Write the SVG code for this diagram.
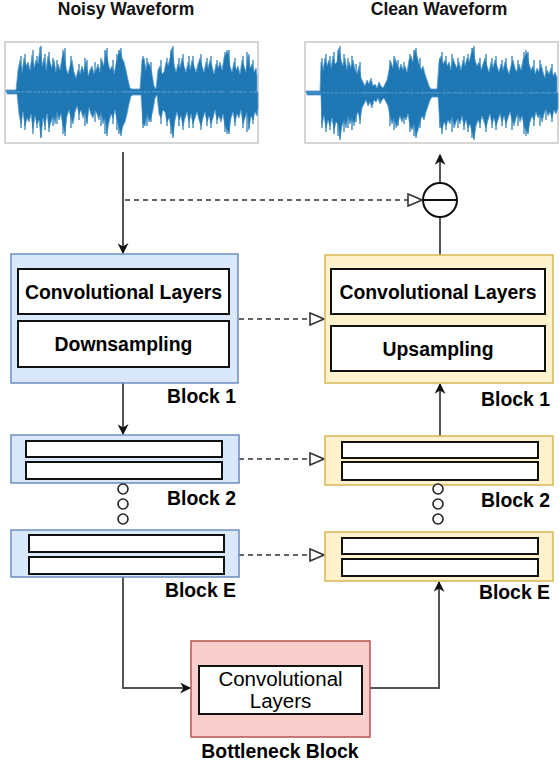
<svg xmlns="http://www.w3.org/2000/svg" width="560" height="763" viewBox="0 0 560 763">
<style>
.t{font-family:"Liberation Sans",Arial,sans-serif;font-weight:bold;font-size:19.4px;fill:#000}
.tn{font-family:"Liberation Sans",Arial,sans-serif;font-size:20.5px;fill:#000}
.ttl{font-family:"Liberation Sans",Arial,sans-serif;font-weight:bold;font-size:17.5px;fill:#111}
.blue{fill:#dae8fc;stroke:#6c8ebf;stroke-width:1.5}
.yel{fill:#fff2cc;stroke:#d6b656;stroke-width:1.5}
.red{fill:#f8cecc;stroke:#b85450;stroke-width:1.5}
.inner{fill:#fff;stroke:#111;stroke-width:2}
.ln{fill:none;stroke:#555;stroke-width:2}
.dash{fill:none;stroke:#333;stroke-width:1.6;stroke-dasharray:5,4}
.wbox{fill:#fff;stroke:#c8c8c8;stroke-width:1.5}
.wave{fill:#1f77b4;stroke:#5a9fd0;stroke-width:0.8;stroke-linejoin:round}
.spk{fill:none;stroke:#1f77b4;stroke-width:1.2}
.dot{fill:#fff;stroke:#222;stroke-width:1.6}
</style>
<defs>
<marker id="ah" viewBox="0 0 10 10" refX="9" refY="5" markerWidth="11" markerHeight="11" markerUnits="userSpaceOnUse" orient="auto">
<path d="M0,0 L10,5 L0,10 L3,5 Z" fill="#111"/>
</marker>
<marker id="oh" viewBox="0 0 16 14" refX="15" refY="7" markerWidth="16" markerHeight="14" markerUnits="userSpaceOnUse" orient="auto">
<path d="M1,1 L15,7 L1,13 Z" fill="#fff" stroke="#333" stroke-width="1.6"/>
</marker>
<polygon id="wn" points="6,90 16,90 18,70 20,60 22,72 24,58 26,66 28,62 30,70 32,55 34,68 36,60 38,64 40,47 42,66 44,58 46,70 48,56 50,62 52,68 54,60 56,72 58,64 60,70 62,58 64,52 66,68 68,74 70,66 72,60 74,72 76,78 78,70 80,74 82,66 84,72 86,62 88,76 90,70 92,66 94,74 96,70 98,64 100,72 102,60 104,66 106,51 108,62 110,70 112,66 114,74 116,64 118,56 120,50 122,58 124,62 126,70 128,80 130,88 132,89 140,89 142,60 144,58 146,70 148,62 150,66 152,74 154,86 156,89 158,70 160,66 162,74 164,72 166,62 168,66 170,58 172,48 174,64 176,72 178,64 180,68 182,58 184,66 186,72 188,62 190,70 192,60 194,66 196,72 198,64 200,58 202,66 204,72 206,62 208,68 210,60 212,66 214,74 216,64 218,68 220,62 222,70 224,58 226,54 228,52 230,66 232,72 234,62 236,70 238,66 240,74 242,60 244,66 246,72 248,56 250,68 252,64 254,72 256,68 257,76 257,92 6,92"/>
<polygon id="wc" points="306,91 320,91 321,62 323,70 325,58 327,66 329,60 331,68 333,56 335,64 337,62 339,48 341,60 343,66 345,58 347,70 349,62 351,68 353,60 355,70 357,74 359,66 361,78 363,82 365,86 367,80 369,84 371,78 373,86 375,84 377,88 379,82 381,86 383,88 385,84 387,80 389,70 391,62 393,68 395,58 397,64 399,70 401,64 403,70 405,66 407,72 409,60 411,56 413,62 415,50 417,56 419,64 421,70 423,66 425,74 427,80 429,86 431,89 437,89 439,62 441,56 443,64 445,60 447,66 449,62 451,70 453,58 455,64 457,68 459,62 461,70 463,60 465,66 467,58 469,62 471,54 473,48 475,60 477,66 479,62 481,70 483,64 485,58 487,66 489,72 491,62 493,68 495,60 497,66 499,72 501,64 503,70 505,62 507,68 509,74 511,66 513,60 515,68 517,72 519,64 521,70 523,60 525,56 527,53 529,64 531,70 533,66 535,74 537,68 539,72 541,64 543,72 545,78 547,70 549,74 551,68 553,76 555,72 557,78 557,93 306,93"/>
</defs>

<g id="titles">
<text class="ttl" x="126" y="15" text-anchor="middle">Noisy Waveform</text>
<text class="ttl" x="439" y="15" text-anchor="middle">Clean Waveform</text>
</g>

<g id="noisy">
<rect class="wbox" x="5" y="42" width="253" height="101"/>
<use href="#wn" class="wave"/>
<use href="#wn" class="wave" transform="translate(1,184) scale(1,-1)"/>
<path class="spk" d="M21,56V128 M25,54V130 M33,50V134 M37,56V128 M41,46V138 M45,54V130 M49,52V132 M53,58V126 M57,60V124 M63,50V134 M65,48V136 M71,56V128 M79,64V120 M85,58V126 M87,60V124 M95,62V122 M101,58V126 M105,50V134 M107,48V136 M113,60V124 M117,54V130 M119,50V134 M121,48V136 M143,56V128 M147,58V126 M151,62V122 M161,60V124 M167,58V126 M171,50V134 M173,46V138 M179,58V126 M183,54V130 M189,56V128 M193,56V128 M201,54V130 M207,58V126 M211,56V128 M217,60V124 M225,52V132 M227,50V134 M229,50V134 M235,58V126 M243,56V128 M247,52V132 M249,54V130 M253,60V124"/>
</g>

<g id="clean">
<rect class="wbox" x="305" y="42" width="253" height="101"/>
<use href="#wc" class="wave"/>
<use href="#wc" class="wave" transform="translate(1,186) scale(1,-1)"/>
<path class="spk" d="M322,58V128 M326,54V132 M330,56V130 M334,52V134 M338,50V136 M340,46V140 M344,54V132 M348,58V128 M352,56V130 M356,64V122 M360,62V124 M390,60V126 M394,56V130 M398,60V126 M404,62V124 M410,54V132 M414,50V136 M416,48V138 M420,58V128 M440,58V128 M442,52V134 M446,56V130 M452,54V132 M458,58V128 M464,56V130 M468,54V132 M472,48V138 M474,46V140 M480,58V128 M486,54V132 M492,58V128 M496,56V130 M502,60V126 M506,58V128 M512,56V130 M518,60V126 M524,52V134 M526,50V136 M528,52V134 M534,60V126 M540,60V126 M546,66V120 M552,64V122"/>
</g>

<g id="connectors">
<line class="ln" x1="123" y1="152" x2="123" y2="253" marker-end="url(#ah)"/>
<line class="dash" x1="125" y1="200" x2="422" y2="200" marker-end="url(#oh)"/>
<line class="ln" x1="440" y1="183" x2="440" y2="155" marker-end="url(#ah)"/>
<line class="ln" x1="440" y1="217" x2="440" y2="255"/>
<line class="dash" x1="239" y1="319" x2="324" y2="319" marker-end="url(#oh)"/>
<line class="ln" x1="123" y1="383" x2="123" y2="434" marker-end="url(#ah)"/>
<line class="ln" x1="440" y1="436" x2="440" y2="384" marker-end="url(#ah)"/>
<line class="dash" x1="239" y1="459" x2="324" y2="459" marker-end="url(#oh)"/>
<line class="dash" x1="239" y1="555" x2="324" y2="555" marker-end="url(#oh)"/>
<polyline class="ln" points="123,577 123,688 190,688" marker-end="url(#ah)"/>
<polyline class="ln" points="370,688 439,688 439,582" marker-end="url(#ah)"/>
</g>

<g id="subtract">
<circle cx="440" cy="200" r="17" fill="#fff" stroke="#111" stroke-width="2"/>
<line x1="423" y1="200" x2="457" y2="200" stroke="#111" stroke-width="2"/>
</g>

<g id="enc-block1">
<rect class="blue" x="11" y="254" width="227" height="129"/>
<rect class="inner" x="18" y="269" width="211" height="45"/>
<rect class="inner" x="18" y="321" width="211" height="46"/>
<text class="t" x="123.5" y="299" text-anchor="middle">Convolutional Layers</text>
<text class="t" x="123.5" y="351" text-anchor="middle">Downsampling</text>
<text class="t" x="236" y="403" text-anchor="end">Block 1</text>
</g>

<g id="dec-block1">
<rect class="yel" x="325" y="255" width="228" height="128"/>
<rect class="inner" x="331" y="269" width="214" height="45"/>
<rect class="inner" x="331" y="326" width="214" height="45"/>
<text class="t" x="438" y="299" text-anchor="middle">Convolutional Layers</text>
<text class="t" x="438" y="356" text-anchor="middle">Upsampling</text>
<text class="t" x="550" y="406" text-anchor="end">Block 1</text>
</g>

<g id="enc-block2">
<rect class="blue" x="11" y="435" width="228" height="48"/>
<rect class="inner" x="26" y="441" width="196" height="16"/>
<rect class="inner" x="26" y="462" width="196" height="17"/>
<text class="t" x="236" y="505" text-anchor="end">Block 2</text>
</g>

<g id="enc-dots">
<circle class="dot" cx="123" cy="489" r="5"/>
<circle class="dot" cx="123" cy="504" r="5"/>
<circle class="dot" cx="123" cy="519" r="5"/>
</g>

<g id="enc-blockE">
<rect class="blue" x="11" y="530" width="228" height="47"/>
<rect class="inner" x="29" y="535" width="195" height="17"/>
<rect class="inner" x="29" y="557" width="195" height="17"/>
<text class="t" x="236" y="597" text-anchor="end">Block E</text>
</g>

<g id="dec-block2">
<rect class="yel" x="325" y="436" width="228" height="49"/>
<rect class="inner" x="342" y="442" width="196" height="16"/>
<rect class="inner" x="342" y="462" width="196" height="18"/>
<text class="t" x="550" y="507" text-anchor="end">Block 2</text>
</g>

<g id="dec-dots">
<circle class="dot" cx="438" cy="489" r="5"/>
<circle class="dot" cx="438" cy="504" r="5"/>
<circle class="dot" cx="438" cy="519" r="5"/>
</g>

<g id="dec-blockE">
<rect class="yel" x="325" y="532" width="228" height="49"/>
<rect class="inner" x="342" y="538" width="196" height="16"/>
<rect class="inner" x="342" y="559" width="196" height="17"/>
<text class="t" x="550" y="599" text-anchor="end">Block E</text>
</g>

<g id="bottleneck">
<rect class="red" x="191" y="641" width="179" height="96"/>
<rect class="inner" x="199" y="666" width="163" height="48"/>
<text class="tn" x="280.5" y="686" text-anchor="middle">Convolutional</text>
<text class="tn" x="280.5" y="708" text-anchor="middle">Layers</text>
<text class="t" x="280" y="758" text-anchor="middle">Bottleneck Block</text>
</g>
</svg>
